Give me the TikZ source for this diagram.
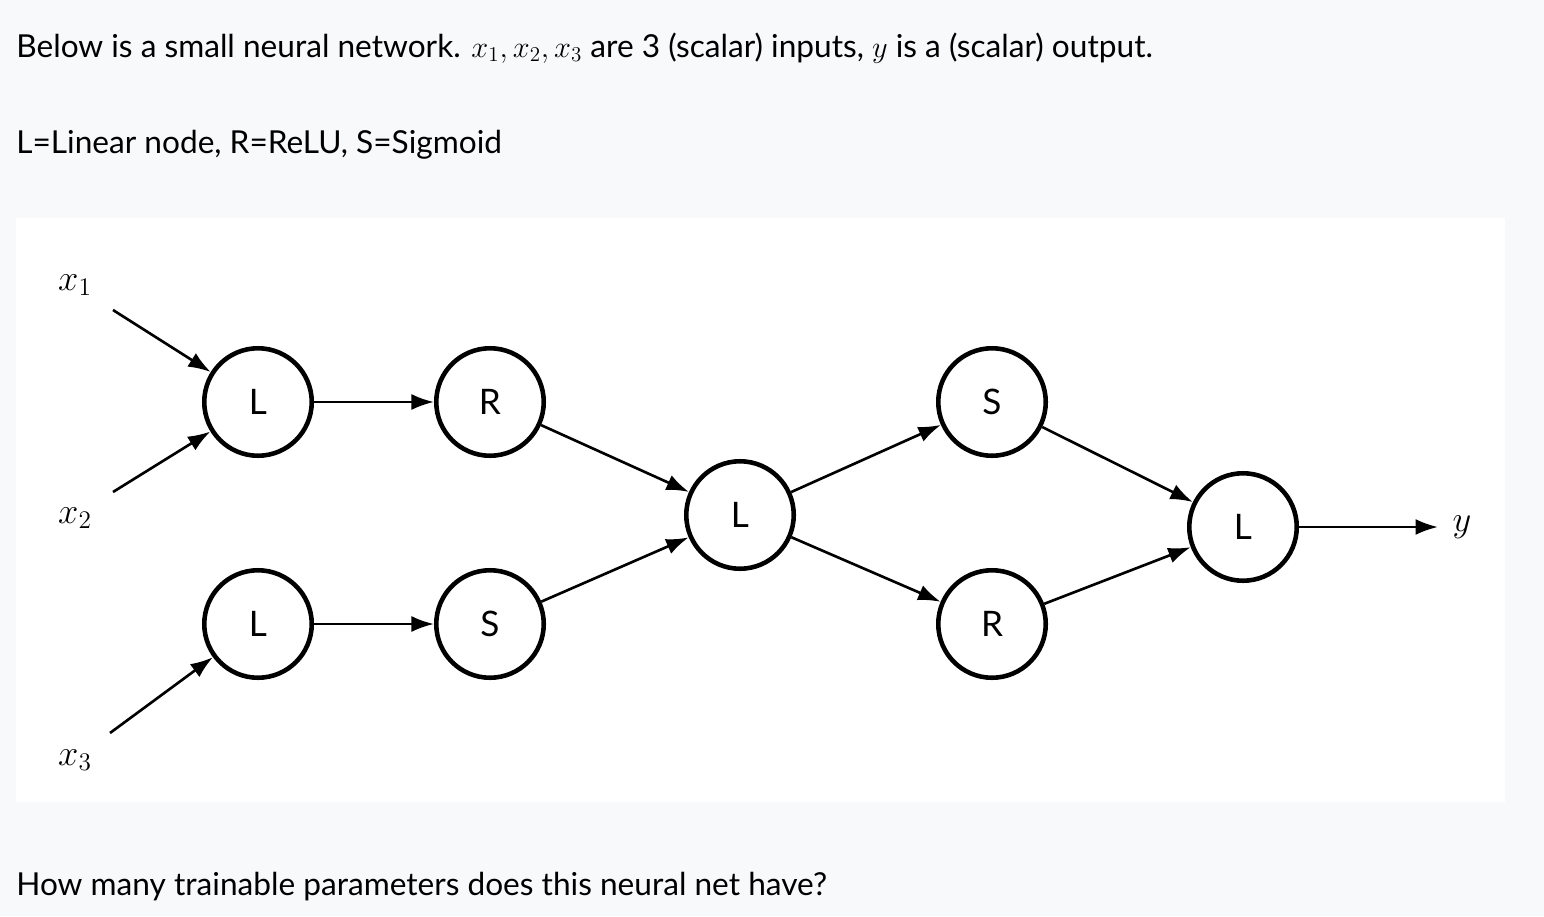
\documentclass[tikz,border=0pt]{standalone}
\usepackage{fontspec}
\setmainfont{Lato}
\usetikzlibrary{arrows.meta}
\definecolor{pagebg}{HTML}{F8F9FA}
\tikzset{
    unit/.style={circle, draw, line width=2.6pt, minimum size=2.15cm, inner sep=0pt, font=\fontsize{20}{24}\selectfont},
    link/.style={line width=1.5pt, -{Latex[length=0.45cm, width=0.32cm]}},
    var/.style={font=\fontsize{20}{24}\selectfont},
    txt/.style={anchor=west, inner sep=0pt, font=\fontsize{18}{21}\selectfont}
}
\begin{document}
\begin{tikzpicture}[x=0.02cm, y=-0.02cm]
    \fill[pagebg] (0, 0) rectangle (1544, 916);
    \fill[white] (16, 218) rectangle (1505, 802);

    \node[txt] (intro) at (16, 48) {Below is a small neural network. $x_1, x_2, x_3$ are 3 (scalar) inputs, $y$ is a (scalar) output.};
    \node[txt] (legend) at (16, 145) {L=Linear node, R=ReLU, S=Sigmoid};
    \node[txt] (question) at (16, 887) {How many trainable parameters does this neural net have?};

    % units
    \node[unit] (L1) at (258, 402) {L};
    \node[unit] (R1) at (490, 402) {R};
    \node[unit] (L2) at (258, 624) {L};
    \node[unit] (S1) at (490, 624) {S};
    \node[unit] (L3) at (740, 515) {L};
    \node[unit] (S2) at (992, 402) {S};
    \node[unit] (R2) at (992, 624) {R};
    \node[unit] (L4) at (1243, 527) {L};

    % inputs and output
    \node[var] (x1) at (75, 285) {$x_1$};
    \node[var] (x2) at (75, 518) {$x_2$};
    \node[var] (x3) at (75, 760) {$x_3$};
    \node[var] (y) at (1462, 527) {$y$};
    \coordinate (in1) at (113, 310);
    \coordinate (in2) at (113, 492);
    \coordinate (in3) at (110, 733);
    \coordinate (out) at (1438, 527);

    \draw[link] (in1) -- (L1);
    \draw[link] (in2) -- (L1);
    \draw[link] (in3) -- (L2);
    \draw[link] (L1) -- (R1);
    \draw[link] (L2) -- (S1);
    \draw[link] (R1) -- (L3);
    \draw[link] (S1) -- (L3);
    \draw[link] (L3) -- (S2);
    \draw[link] (L3) -- (R2);
    \draw[link] (S2) -- (L4);
    \draw[link] (R2) -- (L4);
    \draw[link] (L4) -- (out);
\end{tikzpicture}
\end{document}
